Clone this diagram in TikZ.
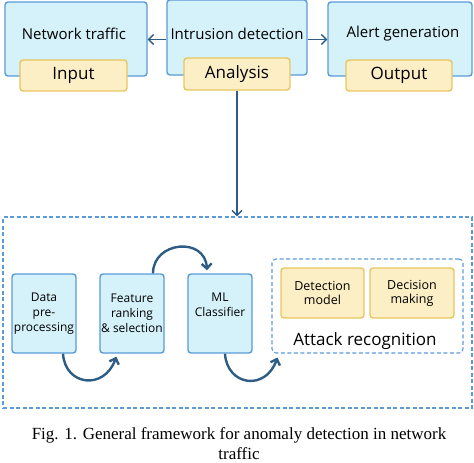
\documentclass[tikz,border=0pt]{standalone}
\usepackage{fontspec}
\setmainfont{Liberation Serif}
\setsansfont{Open Sans}
\usepackage{tikz}
\usetikzlibrary{arrows.meta,positioning,calc}

\definecolor{boxblue}{HTML}{D5F1F9}
\definecolor{edgeblue}{HTML}{5A9BD8}
\definecolor{boxyellow}{HTML}{FCEFC6}
\definecolor{edgeyellow}{HTML}{E7C660}
\definecolor{arrowblue}{HTML}{2D5C85}

\tikzset{
  bluebox/.style={draw=edgeblue,fill=boxblue,line width=1.4pt,rounded corners=3pt,inner sep=0pt},
  tagbox/.style={draw=edgeyellow,fill=boxyellow,line width=1.4pt,rounded corners=3pt,inner sep=0pt},
  dashbox/.style={draw=edgeblue,line width=1.1pt,dash pattern=on 4pt off 2.5pt,inner sep=0pt},
  flow/.style={->,draw=arrowblue,line width=1.4pt},
  hop/.style={->,draw=arrowblue,line width=2.4pt},
  toptext/.style={font=\sffamily\fontsize{15}{18}\selectfont},
  tagtext/.style={font=\sffamily\fontsize{17}{20}\selectfont},
  steptext/.style={font=\sffamily\fontsize{12}{15}\selectfont,align=center},
  picktext/.style={font=\sffamily\fontsize{12.5}{14}\selectfont,align=center},
}

\begin{document}
\begin{tikzpicture}[x=1pt,y=-1pt,>={Straight Barb[length=5pt,width=10pt]}]
  \useasboundingbox (0,0) rectangle (474,463);
  % top stages
  \node[bluebox,minimum width=142,minimum height=74] (net) at (76,39) {};
  \node[bluebox,minimum width=140,minimum height=75] (ids) at (237,37.5) {};
  \node[bluebox,minimum width=144,minimum height=74] (alert) at (400,39) {};
  \node[toptext] (netlab) at (74,34) {Network traffic};
  \node[toptext] (idslab) at (237,34) {Intrusion detection};
  \node[toptext] (alertlab) at (403,34) {Alert generation};
  \node[tagbox,tagtext,minimum width=107,minimum height=31] (input) at (73.5,75.5) {Input};
  \node[tagbox,tagtext,minimum width=106,minimum height=32] (ana) at (237,74) {Analysis};
  \node[tagbox,tagtext,minimum width=106,minimum height=31] (output) at (399,75.5) {Output};
  \draw[flow] ($(ids.west)+(0,2)$) -- ($(net.east |- ids.west)+(0,2)$);
  \draw[flow] ($(ids.east)+(0,2)$) -- ($(alert.west |- ids.east)+(0,2)$);
  % framework
  \node[dashbox,minimum width=469,minimum height=191] (frame) at (237.5,312.5) {};
  \draw[flow] (ana.south) -- (ana.south |- frame.north);
  \node[bluebox,steptext,minimum width=64,minimum height=79] (data) at (44,313.5) {Data\\pre-\\processing};
  \node[bluebox,steptext,minimum width=64,minimum height=79] (feat) at (132,313.5) {Feature\\ranking\\\& selection};
  \node[bluebox,minimum width=64,minimum height=79] (ml) at (220,313.5) {};
  \node[steptext] (mllab) at (220,305) {ML\\Classifier};
  % attack recognition
  \node[dashbox,rounded corners=4pt,minimum width=191,minimum height=94] (atk) at (367.5,306) {};
  \node[tagbox,picktext,minimum width=83,minimum height=50] (detect) at (322.5,293) {Detection\\model};
  \node[tagbox,picktext,minimum width=84,minimum height=50] (decide) at (412,293) {Decision\\making};
  \node[tagtext] (atklab) at (365,341) {Attack recognition};
  % hops
  \draw[hop] ([xshift=19]data.south) .. controls +(2,32) and +(-12,34) .. ([xshift=17,yshift=-3]feat.south west);
  \draw[hop] ([xshift=21]feat.north) .. controls +(0,-32) and +(-2,-34) .. ([xshift=-13,yshift=3]ml.north);
  \draw[hop] ([xshift=5]ml.south) .. controls +(2,32) and +(-12,34) .. ([xshift=6,yshift=-4]atk.south west);
  % caption
  \node[font=\fontsize{17}{20}\selectfont,align=center] (cap) at (239,444)
    {Fig. 1. General framework for anomaly detection in network\\traffic};
\end{tikzpicture}
\end{document}
